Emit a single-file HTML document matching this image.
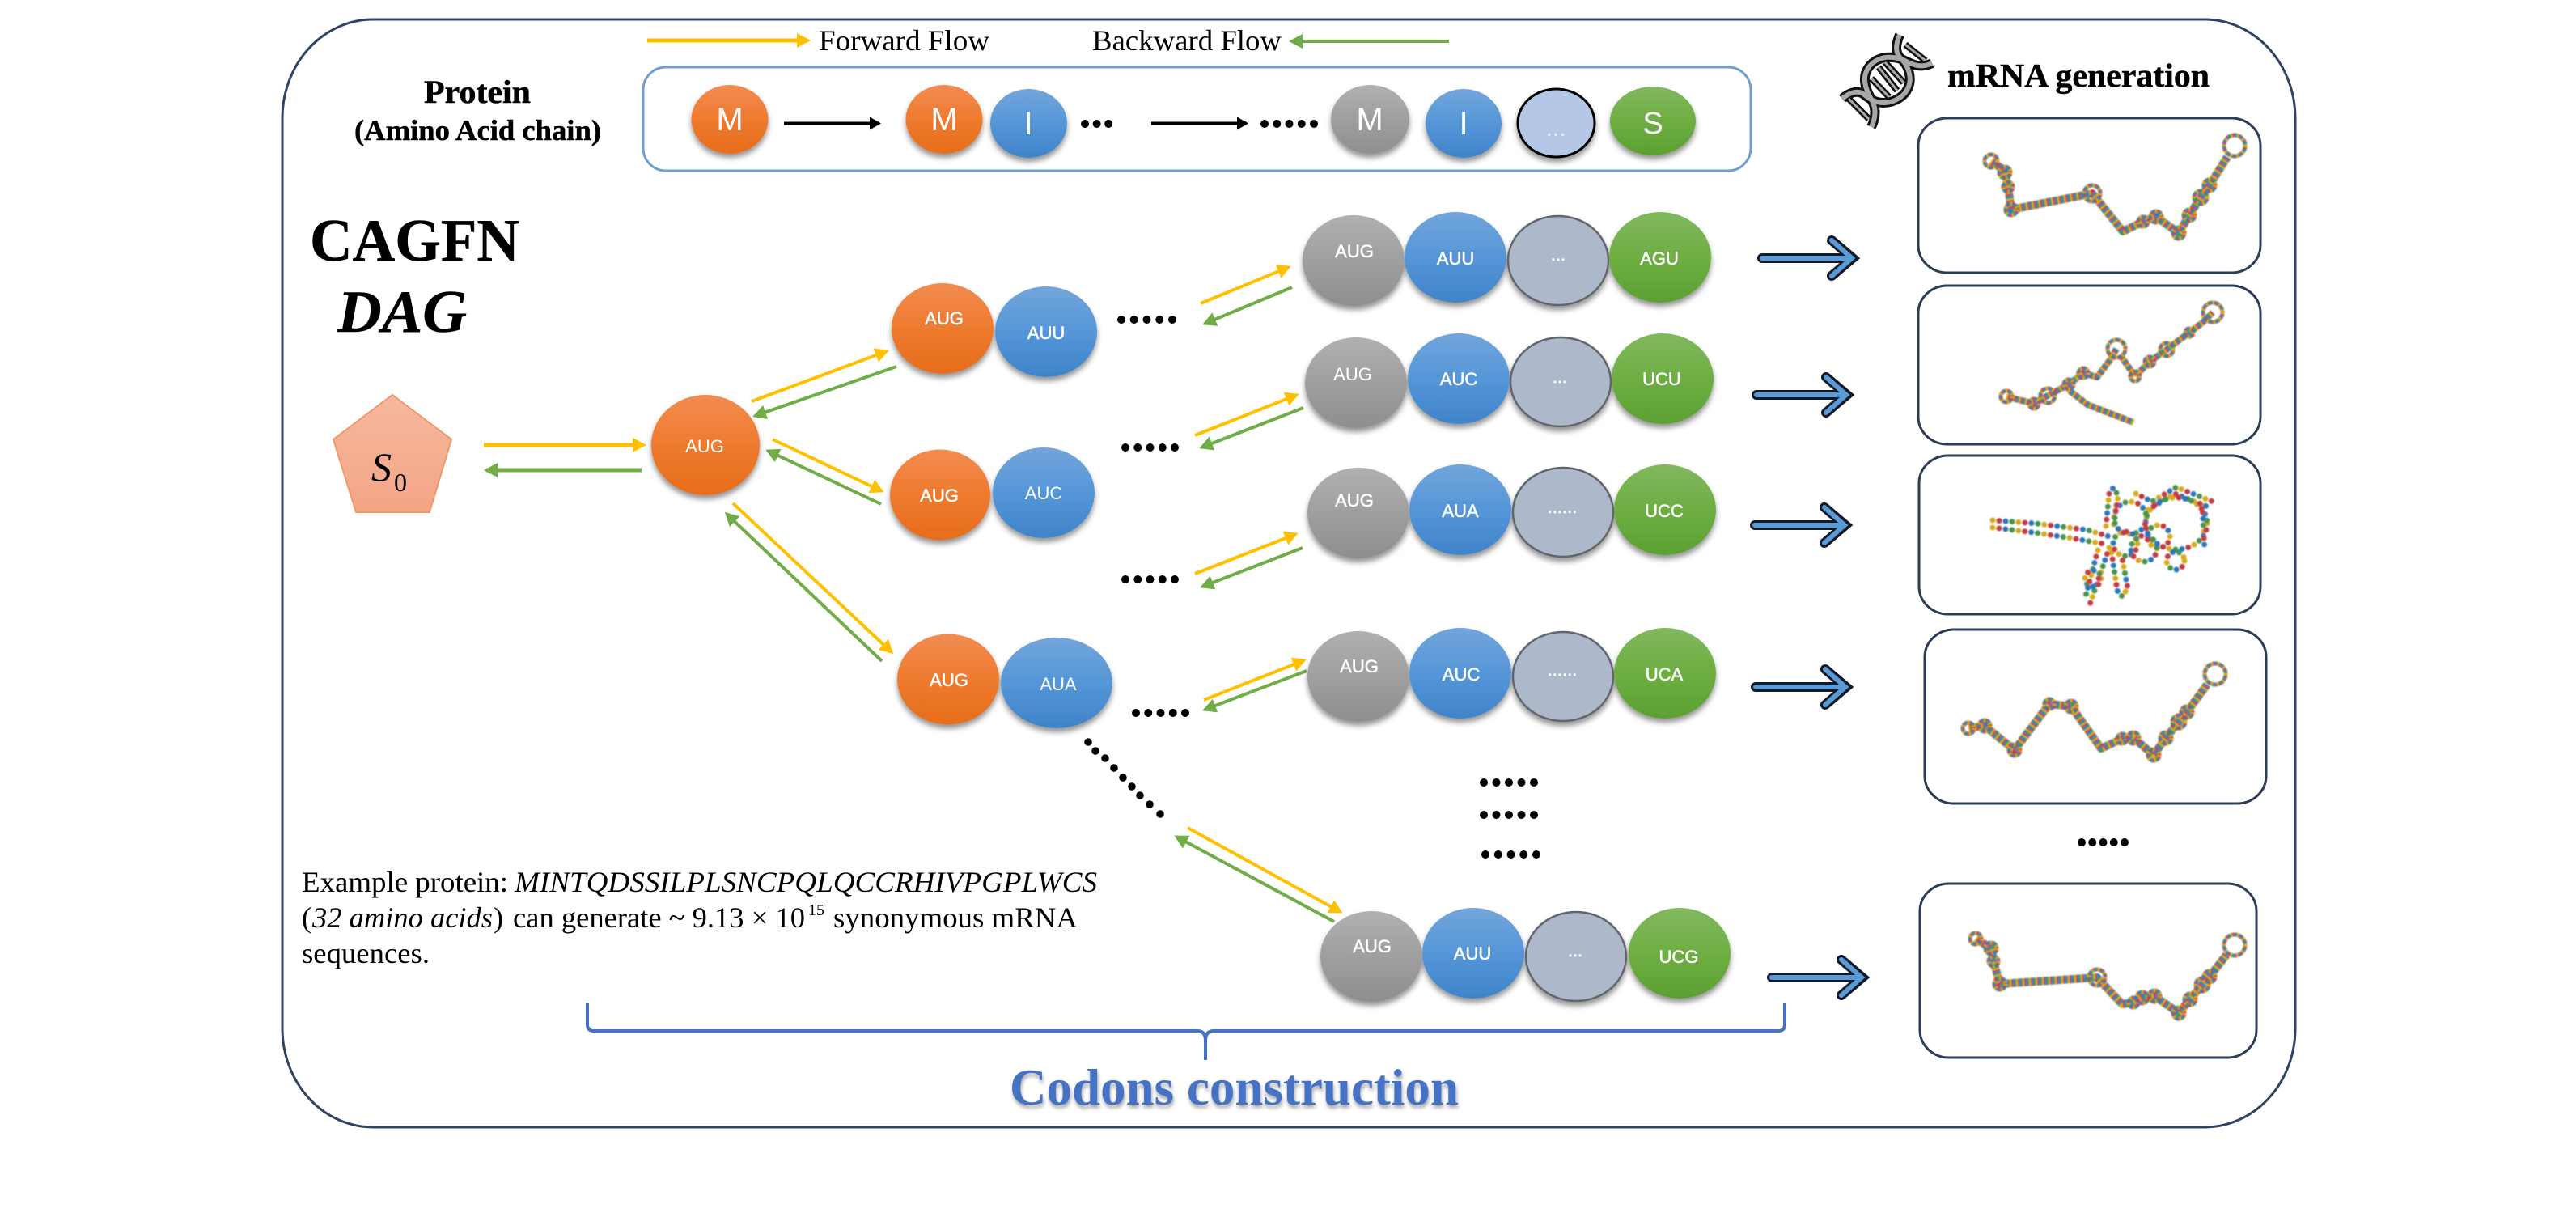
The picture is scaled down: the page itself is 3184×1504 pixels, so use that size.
<!DOCTYPE html>
<html>
<head>
<meta charset="utf-8">
<title>CAGFN DAG</title>
<style>
html,body{margin:0;padding:0;background:#fff;width:3184px;height:1504px;overflow:hidden}
svg{display:block}
.s{font-family:"Liberation Serif",serif;fill:#000}
.n{font-family:"Liberation Sans",sans-serif;fill:#fff;font-size:22px;text-anchor:middle}
.n.b{stroke:#fff;stroke-width:.55}
.hd{font-weight:bold;stroke:#000;stroke-width:.5}
.big{font-family:"Liberation Sans",sans-serif;fill:#fff;font-size:40px;text-anchor:middle}
.dots{stroke:#000;stroke-width:10;stroke-linecap:round;fill:none}
.c1{stroke:#d9ab1c;stroke-dashoffset:0}
.c2{stroke:#46954a;stroke-dashoffset:2}
.c3{stroke:#2a76bd;stroke-dashoffset:4}
.c4{stroke:#c53a45;stroke-dashoffset:6}
.rna use{stroke-dasharray:2 6}
.bead use{stroke-dasharray:0 32;stroke-linecap:round}
.bead .c1{stroke-dashoffset:0}.bead .c2{stroke-dashoffset:8}.bead .c3{stroke-dashoffset:16}.bead .c4{stroke-dashoffset:24}
</style>
</head>
<body>
<svg width="3184" height="1504" viewBox="0 0 3184 1504" xmlns="http://www.w3.org/2000/svg">
<defs>
<linearGradient id="o" x1="0" y1="0" x2="0" y2="1"><stop offset="0" stop-color="#f28c52"/><stop offset=".5" stop-color="#ee7a2e"/><stop offset="1" stop-color="#e66d1a"/></linearGradient>
<linearGradient id="u" x1="0" y1="0" x2="0" y2="1"><stop offset="0" stop-color="#72a5da"/><stop offset=".5" stop-color="#5596d8"/><stop offset="1" stop-color="#3f83c9"/></linearGradient>
<linearGradient id="g" x1="0" y1="0" x2="0" y2="1"><stop offset="0" stop-color="#b0b0b0"/><stop offset="1" stop-color="#8e8e8e"/></linearGradient>
<linearGradient id="v" x1="0" y1="0" x2="0" y2="1"><stop offset="0" stop-color="#81b85f"/><stop offset=".5" stop-color="#6eae42"/><stop offset="1" stop-color="#5ba032"/></linearGradient>
<linearGradient id="p" x1="0" y1="0" x2="0" y2="1"><stop offset="0" stop-color="#f6b89f"/><stop offset="1" stop-color="#f4a585"/></linearGradient>
<filter id="sh" x="-20%" y="-20%" width="140%" height="140%"><feDropShadow dx="0" dy="5" stdDeviation="3.5" flood-color="#000" flood-opacity=".42"/></filter>
<filter id="ts" x="-5%" y="-20%" width="110%" height="150%"><feDropShadow dx="1" dy="4" stdDeviation="2.5" flood-color="#000" flood-opacity=".35"/></filter>
<filter id="bl" x="-5%" y="-5%" width="110%" height="110%"><feGaussianBlur stdDeviation=".8"/></filter>
<marker id="my" markerUnits="userSpaceOnUse" markerWidth="20" markerHeight="22" refX="14" refY="11" orient="auto"><path d="M0,2 L17,11 L0,20 Z" fill="#ffc000"/></marker>
<marker id="mg" markerUnits="userSpaceOnUse" markerWidth="20" markerHeight="22" refX="14" refY="11" orient="auto"><path d="M0,2 L17,11 L0,20 Z" fill="#70ad47"/></marker>
<marker id="mk" markerUnits="userSpaceOnUse" markerWidth="16" markerHeight="18" refX="12" refY="9" orient="auto"><path d="M0,1 L14,9 L0,17 Z" fill="#000"/></marker>
<g id="ba">
<path d="M0,0 H108 M86,-22 L112,0 L86,22" fill="none" stroke="#101a28" stroke-width="12" stroke-linecap="round" stroke-linejoin="miter"/>
<path d="M0,0 H108 M86,-22 L111,0 L86,22" fill="none" stroke="#5b9bd5" stroke-width="6" stroke-linecap="round" stroke-linejoin="miter"/>
</g>

<g id="r1s"><polyline points="2461,199 2478,211 2482,231 2486,259 2586,239 2624,286 2649,274 2665,268 2693,288 2706,266 2720,244 2731,229 2753,194"/></g>
<g id="r1c" ><circle cx="2461" cy="199" r="8"/><circle cx="2478" cy="213" r="7"/><circle cx="2482" cy="231" r="6"/><circle cx="2486" cy="259" r="7"/><circle cx="2586" cy="239" r="10"/><circle cx="2649" cy="274" r="6"/><circle cx="2665" cy="268" r="7"/><circle cx="2693" cy="288" r="7"/><circle cx="2706" cy="266" r="7"/><circle cx="2720" cy="244" r="8"/><circle cx="2731" cy="229" r="7"/><circle cx="2762" cy="180" r="13"/></g>

<g id="r2s"><polyline points="2480,490 2514,499 2531,489 2557,475 2575,461 2592,466 2608,445 2616,431"/><polyline points="2639,465 2620,438"/><polyline points="2639,465 2657,447 2678,432 2706,411 2722,399 2735,386"/><polyline points="2557,482 2580,500 2637,522"/></g>
<g id="r2c"><circle cx="2480" cy="490" r="7"/><circle cx="2514" cy="499" r="6"/><circle cx="2531" cy="489" r="9"/><circle cx="2557" cy="475" r="6"/><circle cx="2575" cy="461" r="6"/><circle cx="2616" cy="431" r="11"/><circle cx="2639" cy="465" r="6"/><circle cx="2657" cy="447" r="6"/><circle cx="2678" cy="432" r="8"/><circle cx="2706" cy="411" r="5"/><circle cx="2735" cy="386" r="12"/></g>

<g id="r3">
<polyline points="2463,643 2517,647 2580,655 2607,663"/>
<polyline points="2463,652 2513,658 2560,665 2600,672"/>
<polyline points="2603,650 2607,610 2612,603 2618,612 2612,653"/>
<polyline points="2593,680 2577,740"/>
<polyline points="2607,677 2583,747"/>
<polyline points="2610,683 2617,730 2623,737 2630,727 2623,690"/>
<polyline points="2655,630 2688,610 2733,628"/>
<polyline points="2722,625 2725,680"/>
<polyline points="2640,610 2660,620 2690,602 2735,620"/>
<ellipse cx="2690" cy="647" rx="38" ry="32"/>
<circle cx="2633" cy="640" r="20"/><circle cx="2627" cy="672" r="15"/><circle cx="2650" cy="678" r="16"/><circle cx="2668" cy="663" r="14"/><circle cx="2689" cy="693" r="11"/><circle cx="2587" cy="715" r="10"/>
</g>

<g id="r4s"><polyline points="2433,900 2453,897 2490,927 2533,870 2560,873 2597,925 2623,913 2637,912 2662,933 2677,912 2693,892 2703,880 2728,846"/></g>
<g id="r4c"><circle cx="2433" cy="900" r="7"/><circle cx="2453" cy="897" r="7"/><circle cx="2490" cy="927" r="7"/><circle cx="2533" cy="870" r="6"/><circle cx="2560" cy="873" r="7"/><circle cx="2623" cy="913" r="6"/><circle cx="2637" cy="912" r="7"/><circle cx="2662" cy="933" r="7"/><circle cx="2677" cy="912" r="7"/><circle cx="2693" cy="892" r="8"/><circle cx="2703" cy="880" r="7"/><circle cx="2738" cy="833" r="13"/></g>

<g id="r5s"><polyline points="2442,1160 2461,1172 2464,1188 2472,1216 2592,1208 2623,1241 2637,1239 2648,1233 2663,1231 2693,1252 2707,1235 2722,1217 2731,1207 2752,1180"/></g>
<g id="r5c"><circle cx="2442" cy="1160" r="7"/><circle cx="2461" cy="1172" r="7"/><circle cx="2464" cy="1188" r="6"/><circle cx="2472" cy="1216" r="7"/><circle cx="2592" cy="1208" r="10"/><circle cx="2637" cy="1239" r="6"/><circle cx="2648" cy="1233" r="7"/><circle cx="2663" cy="1231" r="7"/><circle cx="2693" cy="1252" r="7"/><circle cx="2707" cy="1235" r="7"/><circle cx="2722" cy="1217" r="8"/><circle cx="2731" cy="1207" r="7"/><circle cx="2762" cy="1168" r="13"/></g>
</defs>

<rect width="3184" height="1504" fill="#fff"/>
<rect x="349" y="24" width="2488" height="1369" rx="112" ry="122" fill="none" stroke="#2f4464" stroke-width="3"/>

<!-- legend -->
<line x1="800" y1="50" x2="999" y2="50" stroke="#ffc000" stroke-width="5" marker-end="url(#my)"/>
<text class="s" x="1012" y="62" font-size="36" textLength="211" lengthAdjust="spacingAndGlyphs">Forward Flow</text>
<text class="s" x="1350" y="62" font-size="36" textLength="234" lengthAdjust="spacingAndGlyphs">Backward Flow</text>
<line x1="1791" y1="51" x2="1596" y2="51" stroke="#70ad47" stroke-width="4" marker-end="url(#mg)"/>

<!-- protein -->
<text class="s hd" x="524" y="127" font-size="40" textLength="132" lengthAdjust="spacingAndGlyphs">Protein</text>
<text class="s hd" x="438" y="173" font-size="36" textLength="305" lengthAdjust="spacingAndGlyphs">(Amino Acid chain)</text>
<rect x="795" y="83" width="1369" height="128" rx="28" ry="28" fill="none" stroke="#6fa0d0" stroke-width="3"/>

<g filter="url(#sh)">
<ellipse cx="902" cy="147.5" rx="47.5" ry="42.5" fill="url(#o)"/>
<ellipse cx="1167" cy="147.5" rx="47.5" ry="42.5" fill="url(#o)"/>
<ellipse cx="1271.5" cy="152.5" rx="47.5" ry="42.5" fill="url(#u)"/>
<ellipse cx="1693.5" cy="147.5" rx="48.5" ry="42.5" fill="url(#g)"/>
<ellipse cx="1809" cy="152.5" rx="47" ry="42.5" fill="url(#u)"/>
<ellipse cx="1923.5" cy="152" rx="47.5" ry="42" fill="#b4c7e7" stroke="#000" stroke-width="3"/>
<ellipse cx="2043" cy="149.5" rx="53" ry="42.5" fill="url(#v)"/>
</g>
<text class="big" x="902" y="161">M</text>
<text class="big" x="1167" y="161">M</text>
<text class="big" x="1271" y="166">I</text>
<text class="big" x="1693" y="161">M</text>
<text class="big" x="1809" y="166">I</text>
<text class="n" x="1923" y="168" style="font-size:30px;fill:#e4ebf6">...</text>
<text class="big" x="2043" y="165" style="font-size:38px">S</text>
<line x1="969" y1="152.5" x2="1087" y2="152.5" stroke="#000" stroke-width="4" marker-end="url(#mk)"/>
<line x1="1423" y1="152.5" x2="1541" y2="152.5" stroke="#000" stroke-width="4" marker-end="url(#mk)"/>
<line class="dots" x1="1341" y1="153" x2="1370.5" y2="153" stroke-dasharray="0 14.6"/>
<line class="dots" x1="1563" y1="153" x2="1624.5" y2="153" stroke-dasharray="0 15.25"/>

<!-- CAGFN DAG -->
<text class="s hd" x="383" y="322" font-size="74" textLength="259" lengthAdjust="spacingAndGlyphs">CAGFN</text>
<text class="s hd" x="417" y="410" font-size="74" font-style="italic" textLength="160" lengthAdjust="spacingAndGlyphs">DAG</text>

<!-- S0 -->
<polygon points="485,488 558,543 531,633 440,633 412,543" fill="url(#p)" stroke="#ed9a6c" stroke-width="2"/>
<text class="s" x="459" y="594" font-size="50" font-style="italic">S</text>
<text class="s" x="487" y="607" font-size="32">0</text>

<!-- Flow arrows -->
<g fill="none">
<line x1="598" y1="550" x2="796" y2="550" stroke="#ffc000" stroke-width="5" marker-end="url(#my)"/>
<line x1="793" y1="581" x2="601" y2="581" stroke="#70ad47" stroke-width="5" marker-end="url(#mg)"/>
<g stroke="#ffc000" stroke-width="4">
<line x1="929" y1="496" x2="1096" y2="434" marker-end="url(#my)"/>
<line x1="955" y1="543" x2="1090" y2="607" marker-end="url(#my)"/>
<line x1="906" y1="622" x2="1102" y2="806" marker-end="url(#my)"/>
<line x1="1484" y1="375" x2="1593" y2="330" marker-end="url(#my)"/>
<line x1="1477" y1="538" x2="1603" y2="488" marker-end="url(#my)"/>
<line x1="1477" y1="709" x2="1602" y2="660" marker-end="url(#my)"/>
<line x1="1488" y1="865" x2="1612" y2="816" marker-end="url(#my)"/>
<line x1="1468" y1="1023" x2="1657" y2="1127" marker-end="url(#my)"/>
</g>
<g stroke="#70ad47" stroke-width="4">
<line x1="1108" y1="453" x2="933" y2="514" marker-end="url(#mg)"/>
<line x1="1089" y1="623" x2="949" y2="557" marker-end="url(#mg)"/>
<line x1="1090" y1="817" x2="898" y2="635" marker-end="url(#mg)"/>
<line x1="1597" y1="355" x2="1489" y2="400" marker-end="url(#mg)"/>
<line x1="1611" y1="504" x2="1485" y2="553" marker-end="url(#mg)"/>
<line x1="1610" y1="677" x2="1486" y2="725" marker-end="url(#mg)"/>
<line x1="1615" y1="829" x2="1489" y2="877" marker-end="url(#mg)"/>
<line x1="1649" y1="1139" x2="1454" y2="1034" marker-end="url(#mg)"/>
</g>
</g>

<!-- Nodes -->
<g filter="url(#sh)">
<ellipse cx="872" cy="550" rx="67" ry="62" fill="url(#o)"/>
<ellipse cx="1165" cy="406" rx="63" ry="56" fill="url(#o)"/>
<ellipse cx="1293" cy="410" rx="63" ry="56" fill="url(#u)"/>
<ellipse cx="1162" cy="611.5" rx="62" ry="56" fill="url(#o)"/>
<ellipse cx="1290" cy="609" rx="63" ry="56" fill="url(#u)"/>
<ellipse cx="1172" cy="839.5" rx="63" ry="56" fill="url(#o)"/>
<ellipse cx="1306" cy="844" rx="69" ry="56" fill="url(#u)"/>

<ellipse cx="1673" cy="322" rx="63" ry="56" fill="url(#g)"/>
<ellipse cx="1799" cy="318" rx="63" ry="56" fill="url(#u)"/>
<ellipse cx="1926" cy="322" rx="62" ry="55" fill="#adb9ca" stroke="#62666c" stroke-width="2.5"/>
<ellipse cx="2052" cy="318" rx="63" ry="56" fill="url(#v)"/>

<ellipse cx="1676" cy="473" rx="63" ry="56" fill="url(#g)"/>
<ellipse cx="1803" cy="468" rx="63" ry="56" fill="url(#u)"/>
<ellipse cx="1929" cy="472" rx="62" ry="55" fill="#adb9ca" stroke="#62666c" stroke-width="2.5"/>
<ellipse cx="2055" cy="468" rx="63" ry="56" fill="url(#v)"/>

<ellipse cx="1679" cy="634" rx="63" ry="56" fill="url(#g)"/>
<ellipse cx="1805" cy="630" rx="63" ry="56" fill="url(#u)"/>
<ellipse cx="1932" cy="633" rx="62" ry="55" fill="#adb9ca" stroke="#62666c" stroke-width="2.5"/>
<ellipse cx="2058" cy="630" rx="63" ry="56" fill="url(#v)"/>

<ellipse cx="1679" cy="836" rx="63" ry="56" fill="url(#g)"/>
<ellipse cx="1805" cy="832" rx="63" ry="56" fill="url(#u)"/>
<ellipse cx="1932" cy="836" rx="62" ry="55" fill="#adb9ca" stroke="#62666c" stroke-width="2.5"/>
<ellipse cx="2058" cy="832" rx="63" ry="56" fill="url(#v)"/>

<ellipse cx="1695" cy="1182" rx="63" ry="56" fill="url(#g)"/>
<ellipse cx="1821" cy="1178" rx="63" ry="56" fill="url(#u)"/>
<ellipse cx="1948" cy="1182" rx="62" ry="55" fill="#adb9ca" stroke="#62666c" stroke-width="2.5"/>
<ellipse cx="2076" cy="1178" rx="63" ry="56" fill="url(#v)"/>
</g>

<text class="n" x="871" y="559">AUG</text>
<text class="n b" x="1167" y="401">AUG</text>
<text class="n b" x="1293" y="419">AUU</text>
<text class="n b" x="1161" y="620">AUG</text>
<text class="n" x="1290" y="617">AUC</text>
<text class="n b" x="1173" y="848">AUG</text>
<text class="n" x="1308" y="853">AUA</text>

<text class="n b" x="1674" y="318">AUG</text><text class="n b" x="1799" y="327">AUU</text><text class="n b" x="1926" y="322">...</text><text class="n b" x="2051" y="327">AGU</text>
<text class="n" x="1672" y="470">AUG</text><text class="n b" x="1803" y="476">AUC</text><text class="n b" x="1928" y="473">...</text><text class="n b" x="2054" y="476">UCU</text>
<text class="n b" x="1674" y="626">AUG</text><text class="n b" x="1805" y="639">AUA</text><text class="n b" x="1931" y="634">......</text><text class="n b" x="2057" y="639">UCC</text>
<text class="n b" x="1680" y="831">AUG</text><text class="n b" x="1806" y="841">AUC</text><text class="n b" x="1931" y="835">......</text><text class="n b" x="2057" y="841">UCA</text>
<text class="n b" x="1696" y="1177">AUG</text><text class="n b" x="1820" y="1186">AUU</text><text class="n b" x="1947" y="1182">...</text><text class="n b" x="2075" y="1190">UCG</text>

<!-- Dots -->
<line class="dots" x1="1386" y1="395" x2="1449.5" y2="395" stroke-dasharray="0 15.75"/>
<line class="dots" x1="1391" y1="553" x2="1452.5" y2="553" stroke-dasharray="0 15.25"/>
<line class="dots" x1="1391" y1="716" x2="1452.5" y2="716" stroke-dasharray="0 15.25"/>
<line class="dots" x1="1404" y1="881" x2="1465.5" y2="881" stroke-dasharray="0 15.25"/>
<line class="dots" x1="1834" y1="967" x2="1896.5" y2="967" stroke-dasharray="0 15.5"/>
<line class="dots" x1="1834" y1="1007" x2="1896.5" y2="1007" stroke-dasharray="0 15.5"/>
<line class="dots" x1="1836" y1="1056" x2="1899.5" y2="1056" stroke-dasharray="0 15.75"/>
<line class="dots" x1="2573" y1="1041" x2="2626.5" y2="1041" stroke-dasharray="0 13.25"/>
<g fill="#000">
<circle cx="1345" cy="917" r="4.8"/><circle cx="1354" cy="928" r="4.8"/><circle cx="1366" cy="937" r="4.8"/><circle cx="1377" cy="949" r="4.8"/><circle cx="1388" cy="961" r="4.8"/><circle cx="1399" cy="972" r="4.8"/><circle cx="1409" cy="983" r="4.8"/><circle cx="1421" cy="994" r="4.8"/><circle cx="1434" cy="1006" r="4.8"/>
</g>

<!-- Big arrows -->
<use href="#ba" transform="translate(2178,319)"/>
<use href="#ba" transform="translate(2171,488)"/>
<use href="#ba" transform="translate(2169,649)"/>
<use href="#ba" transform="translate(2170,849)"/>
<use href="#ba" transform="translate(2190,1208)"/>

<!-- Text block -->
<text class="s" x="373" y="1102" font-size="36" textLength="255" lengthAdjust="spacingAndGlyphs">Example protein:</text>
<text class="s" x="636" y="1102" font-size="36" font-style="italic" textLength="720" lengthAdjust="spacingAndGlyphs">MINTQDSSILPLSNCPQLQCCRHIVPGPLWCS</text>
<text class="s" x="373" y="1146" font-size="36">(</text>
<text class="s" x="386" y="1146" font-size="36" font-style="italic" textLength="223" lengthAdjust="spacingAndGlyphs">32 amino acids</text>
<text class="s" x="610" y="1146" font-size="36">)</text>
<text class="s" x="634" y="1146" font-size="36" textLength="361" lengthAdjust="spacingAndGlyphs">can generate ~ 9.13 × 10</text>
<text class="s" x="999" y="1131" font-size="20" textLength="20" lengthAdjust="spacingAndGlyphs">15</text>
<text class="s" x="1030" y="1146" font-size="36" textLength="302" lengthAdjust="spacingAndGlyphs">synonymous mRNA</text>
<text class="s" x="373" y="1190" font-size="36" textLength="158" lengthAdjust="spacingAndGlyphs">sequences.</text>

<!-- Bracket -->
<path d="M726,1239 V1266 Q726,1274 734,1274 H1480 Q1490,1274 1490,1286 V1310 M1490,1286 Q1490,1274 1500,1274 H2198 Q2206,1274 2206,1266 V1240" fill="none" stroke="#4472c4" stroke-width="4"/>
<text class="s" x="1248" y="1365" font-size="63" font-weight="bold" style="fill:#4472c4" filter="url(#ts)" textLength="555" lengthAdjust="spacingAndGlyphs">Codons construction</text>

<!-- DNA icon -->
<g fill="none" stroke-linecap="butt">
<g stroke="#111" stroke-width="8">
<path d="M2355,55 L2380,75 M2285,122 L2310,147 M2313,97 L2335,120 M2322,83 L2345,112 M2330,77 L2353,102"/>
</g>
<g stroke="#111" stroke-width="12">
<path id="dnaA" d="M2348,43 C2342,58 2343,66 2350,73 C2360,82 2362,96 2360,104 C2356,120 2340,127 2328,127 C2316,127 2308,120 2303,116 C2295,111 2285,115 2277,122"/>
<path id="dnaB" d="M2388,78 C2380,82 2372,82 2366,80 C2360,78 2355,75 2350,73 C2340,70 2330,70 2323,73 C2310,78 2304,90 2305,100 C2306,112 2312,120 2315,127 C2319,135 2318,147 2313,157"/>
</g>
<g stroke="#a8a8a8" stroke-width="3">
<path d="M2355,55 L2380,75 M2285,122 L2310,147 M2313,97 L2335,120 M2322,83 L2345,112 M2330,77 L2353,102"/>
</g>
<g stroke="#a8a8a8" stroke-width="6">
<path d="M2348,43 C2342,58 2343,66 2350,73 C2360,82 2362,96 2360,104 C2356,120 2340,127 2328,127 C2316,127 2308,120 2303,116 C2295,111 2285,115 2277,122"/>
<path d="M2388,78 C2380,82 2372,82 2366,80 C2360,78 2355,75 2350,73 C2340,70 2330,70 2323,73 C2310,78 2304,90 2305,100 C2306,112 2312,120 2315,127 C2319,135 2318,147 2313,157"/>
</g>
</g>
<text class="s hd" x="2407" y="107" font-size="41" textLength="324" lengthAdjust="spacingAndGlyphs">mRNA generation</text>

<!-- mRNA boxes -->
<g fill="#fff" stroke="#2b3d57" stroke-width="3">
<rect x="2371" y="146" width="423" height="191" rx="36" ry="34"/>
<rect x="2371" y="353" width="423" height="196" rx="36" ry="34"/>
<rect x="2372" y="563" width="422" height="196" rx="36" ry="34"/>
<rect x="2379" y="778" width="422" height="215" rx="36" ry="34"/>
<rect x="2373" y="1092" width="416" height="215" rx="36" ry="34"/>
</g>

<!-- RNA structures -->
<g filter="url(#bl)" fill="none">
<g class="rna" stroke-width="10" stroke-linejoin="round"><use href="#r1s" class="c1"/><use href="#r1s" class="c2"/><use href="#r1s" class="c3"/><use href="#r1s" class="c4"/></g>
<g class="rna" stroke-width="5"><use href="#r1c" class="c1"/><use href="#r1c" class="c2"/><use href="#r1c" class="c3"/><use href="#r1c" class="c4"/></g>
<g class="rna" stroke-width="8" stroke-linejoin="round"><use href="#r2s" class="c1"/><use href="#r2s" class="c2"/><use href="#r2s" class="c3"/><use href="#r2s" class="c4"/></g>
<g class="rna" stroke-width="5"><use href="#r2c" class="c1"/><use href="#r2c" class="c2"/><use href="#r2c" class="c3"/><use href="#r2c" class="c4"/></g>
<g class="bead" stroke-width="7"><use href="#r3" class="c1"/><use href="#r3" class="c2"/><use href="#r3" class="c3"/><use href="#r3" class="c4"/></g>
<g class="rna" stroke-width="10" stroke-linejoin="round"><use href="#r4s" class="c1"/><use href="#r4s" class="c2"/><use href="#r4s" class="c3"/><use href="#r4s" class="c4"/></g>
<g class="rna" stroke-width="5"><use href="#r4c" class="c1"/><use href="#r4c" class="c2"/><use href="#r4c" class="c3"/><use href="#r4c" class="c4"/></g>
<g class="rna" stroke-width="10" stroke-linejoin="round"><use href="#r5s" class="c1"/><use href="#r5s" class="c2"/><use href="#r5s" class="c3"/><use href="#r5s" class="c4"/></g>
<g class="rna" stroke-width="5"><use href="#r5c" class="c1"/><use href="#r5c" class="c2"/><use href="#r5c" class="c3"/><use href="#r5c" class="c4"/></g>
</g>
</svg>
</body>
</html>
